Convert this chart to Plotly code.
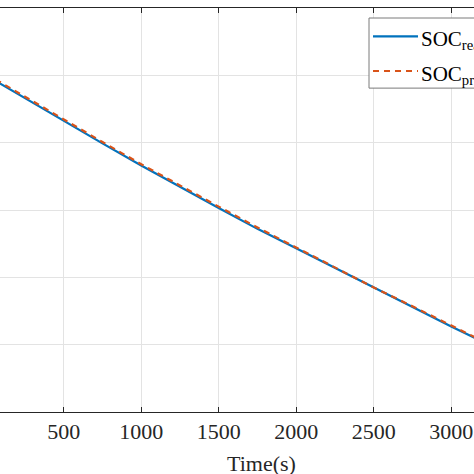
import plotly.graph_objects as go

# Data
time_s = [0, 250, 500, 750, 1000, 1250, 1500, 1750, 2000, 2250, 2500, 2750, 3000, 3250]
soc_real = [0.900, 0.866, 0.832, 0.799, 0.766, 0.734, 0.703, 0.672, 0.643, 0.613, 0.584, 0.555, 0.527, 0.499]
soc_pred = [0.902, 0.868, 0.834, 0.801, 0.768, 0.736, 0.705, 0.674, 0.644, 0.614, 0.585, 0.557, 0.528, 0.500]
x_ticks = [500, 1000, 1500, 2000, 2500, 3000]
series_names = ["SOC<sub>real</sub>", "SOC<sub>pre</sub>"]
series_colors = ["#0072BD", "#D95319"]
series_dash = ["solid", "6px,5px"]

FONT = "Liberation Serif, Times New Roman, serif"
W, H = 474, 474
PT, PB = 8.3, 411.7  # plot area top/bottom in pixels


def px(x):
    return x / W


def py(y):
    return (PB - y) / (PB - PT)


fig = go.Figure()
for name, ys, col, dash in zip(series_names, [soc_real, soc_pred], series_colors, series_dash):
    fig.add_trace(go.Scatter(x=time_s, y=ys, mode="lines", name=name,
                             line=dict(color=col, width=2.2, dash=dash)))

# legend box (cut by the right edge, as in the original)
shapes = [dict(type="rect", xref="paper", yref="paper",
               x0=px(369), x1=px(520), y0=py(88.3), y1=py(18.3),
               line=dict(color="#7a7a7a", width=1), fillcolor="white", layer="above")]
annotations = []
rows = [36.7, 71.2]
for name, col, dash, ry in zip(series_names, series_colors, series_dash, rows):
    shapes.append(dict(type="line", xref="paper", yref="paper",
                       x0=px(373), x1=px(418), y0=py(ry), y1=py(ry),
                       line=dict(color=col, width=2.2, dash=dash), layer="above"))
    annotations.append(dict(text=name, x=px(419), y=py(ry + 4), xref="paper", yref="paper",
                            xanchor="left", yanchor="middle", showarrow=False,
                            font=dict(family=FONT, size=21, color="#000000")))

annotations.append(dict(text="Time(s)", x=261 / W, y=-0.127, xref="paper", yref="paper",
                        xanchor="center", yanchor="middle", showarrow=False,
                        font=dict(family=FONT, size=22, color="#262626")))

fig.update_layout(
    width=W, height=H,
    margin=dict(l=0, r=0, t=8, b=62, autoexpand=False),
    paper_bgcolor="white", plot_bgcolor="white",
    font=dict(family=FONT, size=22, color="#262626"),
    showlegend=False,
    xaxis=dict(range=[89, 3147], tickvals=x_ticks, ticks="inside", ticklen=5,
               tickcolor="#262626", showline=True, linecolor="#262626", linewidth=1,
               mirror="allticks", showgrid=True, gridcolor="#e3e3e3", gridwidth=1,
               zeroline=False, tickfont=dict(family=FONT, size=22, color="#262626")),
    yaxis=dict(range=[0.4, 1.0], dtick=0.1, showticklabels=False, ticks="",
               showline=False, showgrid=True, gridcolor="#e3e3e3", gridwidth=1,
               zeroline=False),
    shapes=shapes,
    annotations=annotations,
)

fig.write_html("out.html")
